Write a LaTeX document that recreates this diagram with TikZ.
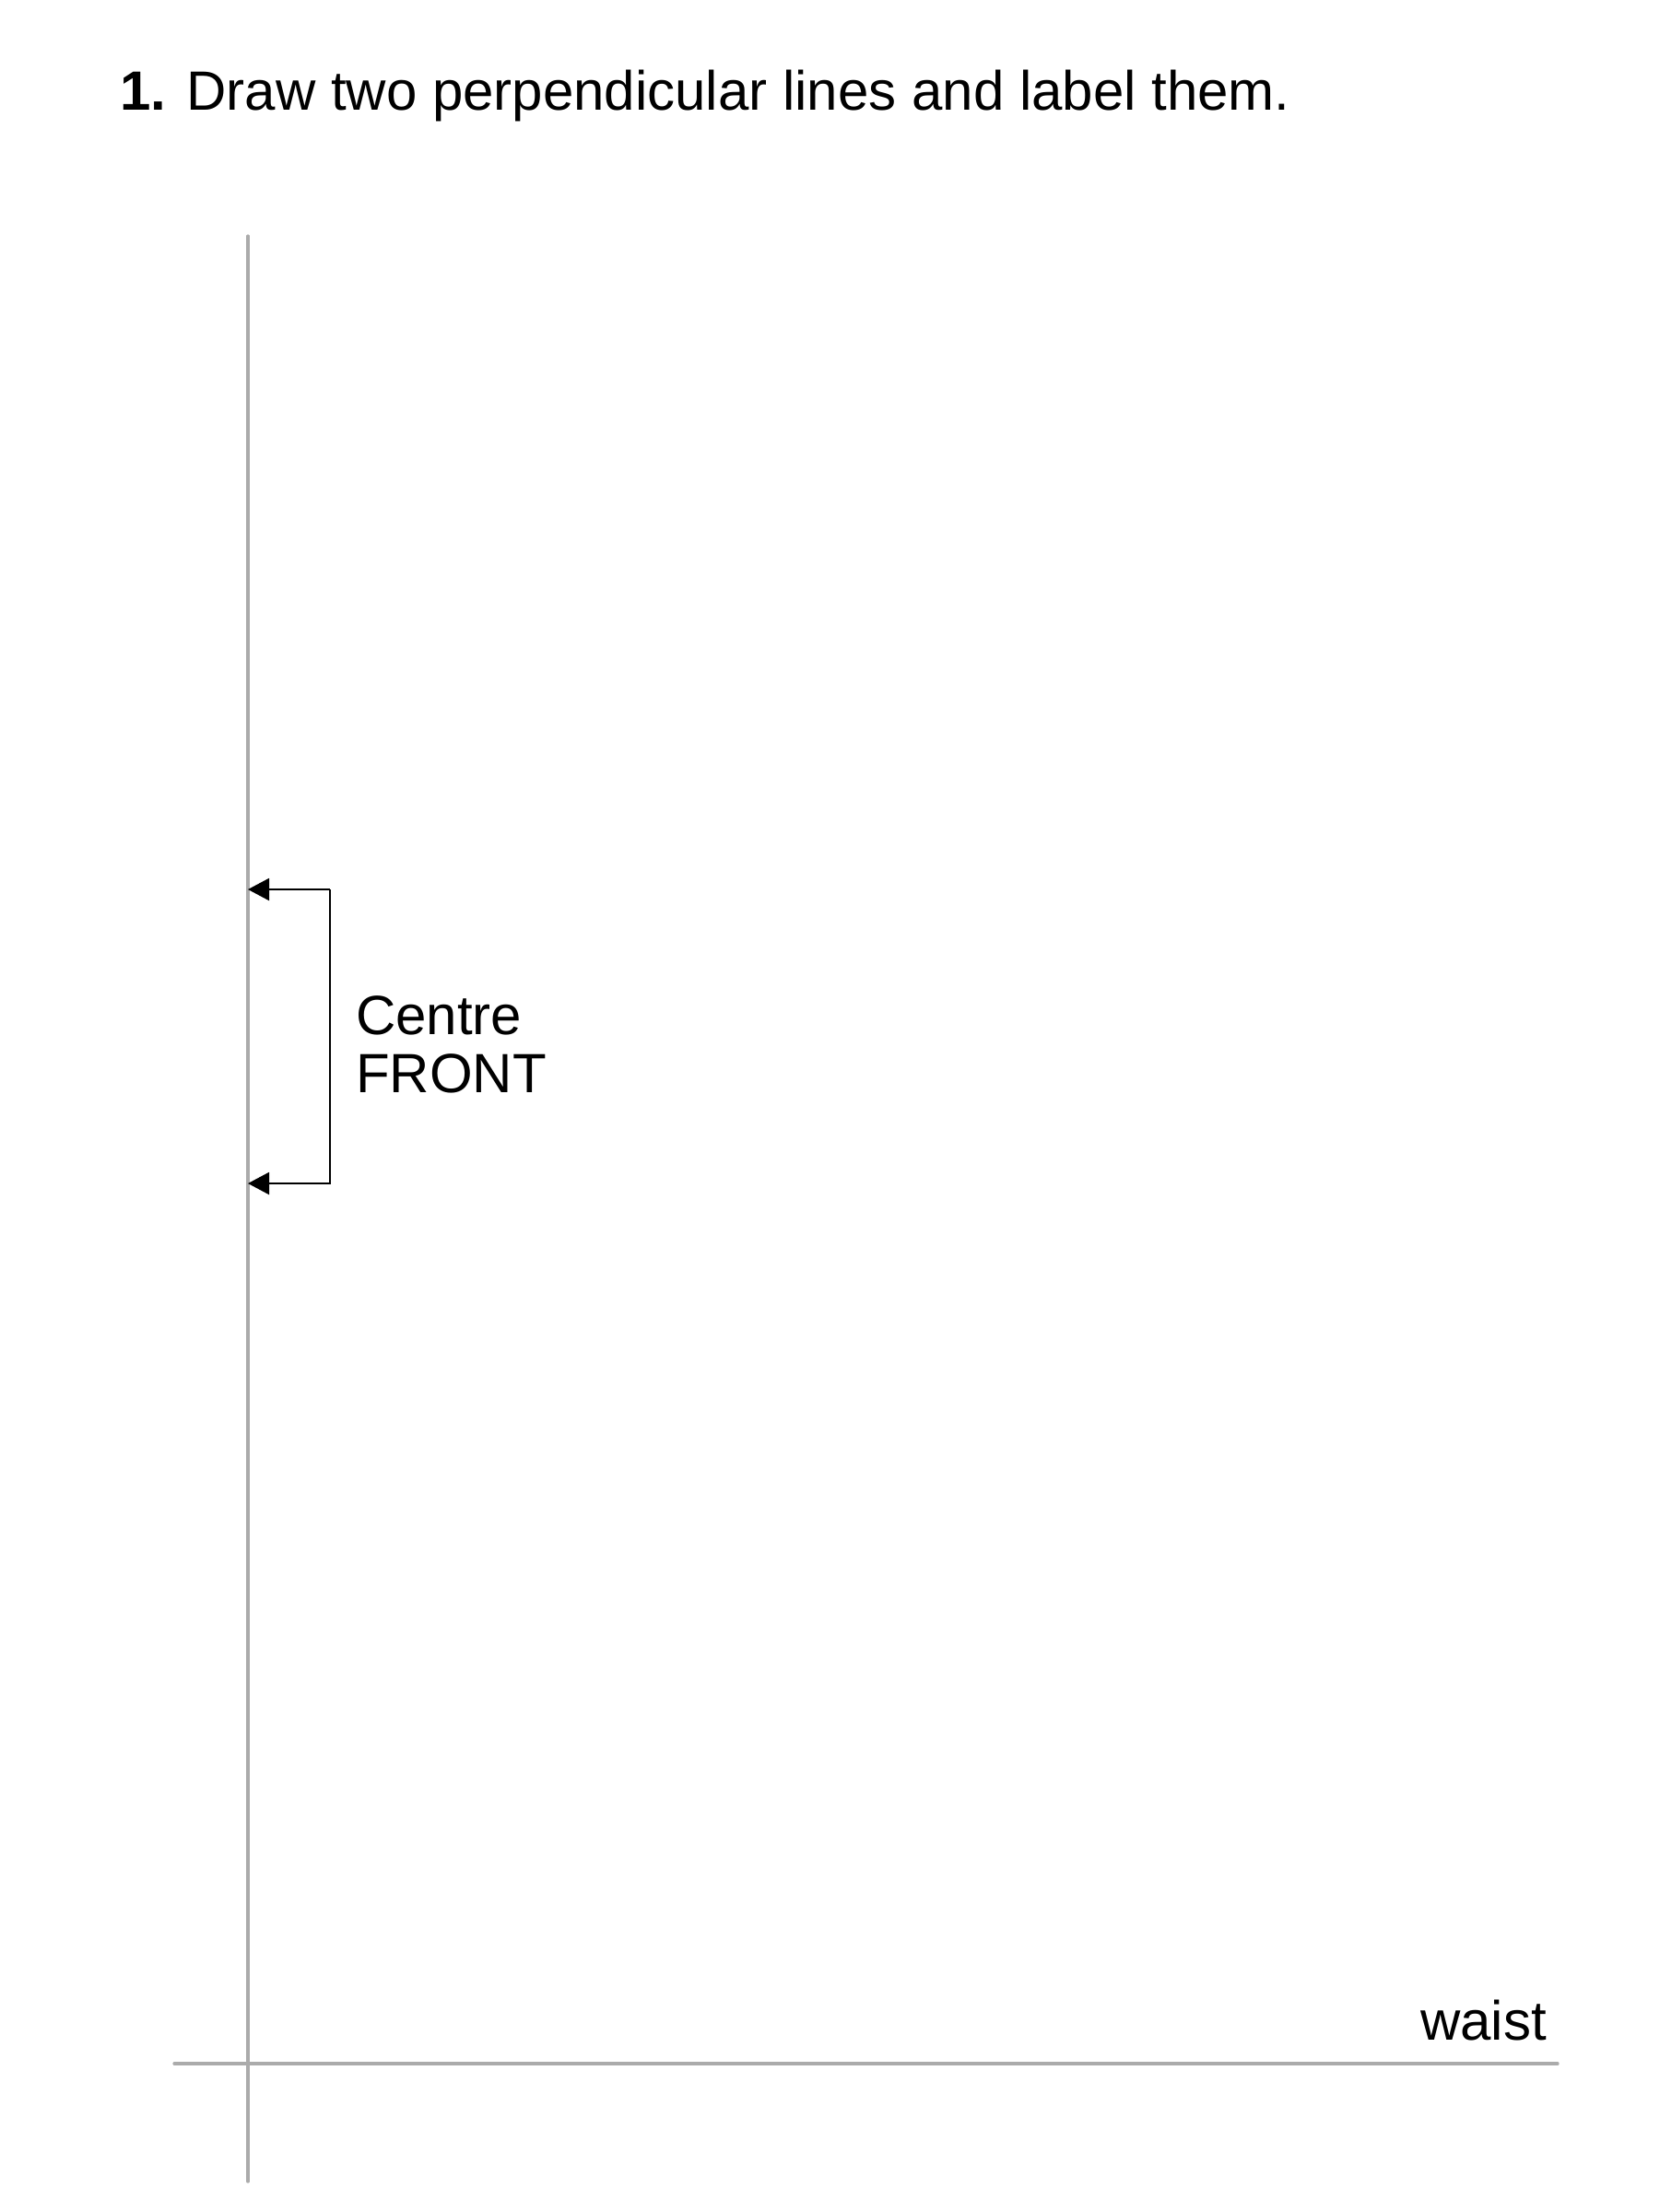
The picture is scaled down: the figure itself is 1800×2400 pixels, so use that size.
\documentclass[tikz,border=0pt]{standalone}
\usepackage{fontspec}
\setmainfont{Liberation Sans}
\usetikzlibrary{arrows.meta}
\begin{document}
\begin{tikzpicture}[x=1pt,y=-1pt,
  guide/.style={draw=black!33,line width=3.2pt,line cap=round},
  bracket/.style={draw=black,line width=2pt,-{Triangle[length=23pt,width=24pt]}},
  txt/.style={inner sep=0pt,font=\fontsize{60}{63}\selectfont}]
\useasboundingbox (0,0) rectangle (1800,2400);
% guide lines
\coordinate (vtop) at (269,256);
\coordinate (vbot) at (269,2367);
\coordinate (hl) at (189,2239);
\coordinate (hr) at (1690,2239);
\draw[guide] (vtop) -- (vbot);
\draw[guide] (hl) -- (hr);
% bracket
\coordinate (b1) at (358,965);
\coordinate (b2) at (358,1284);
\coordinate (a1) at (269,965);
\coordinate (a2) at (269,1284);
\draw[bracket] (b1) -- (a1);
\draw[bracket] (b1) -- (b2) -- (a2);
% texts
\node[txt,anchor=base west] (title) at (130,120) {\textbf{1.} Draw two perpendicular lines and label them.};
\node[txt,anchor=base west,align=left] (cf) at (386,1185) {Centre\\FRONT};
\node[txt,anchor=base east] (waist) at (1678,2213) {waist};
\end{tikzpicture}
\end{document}
